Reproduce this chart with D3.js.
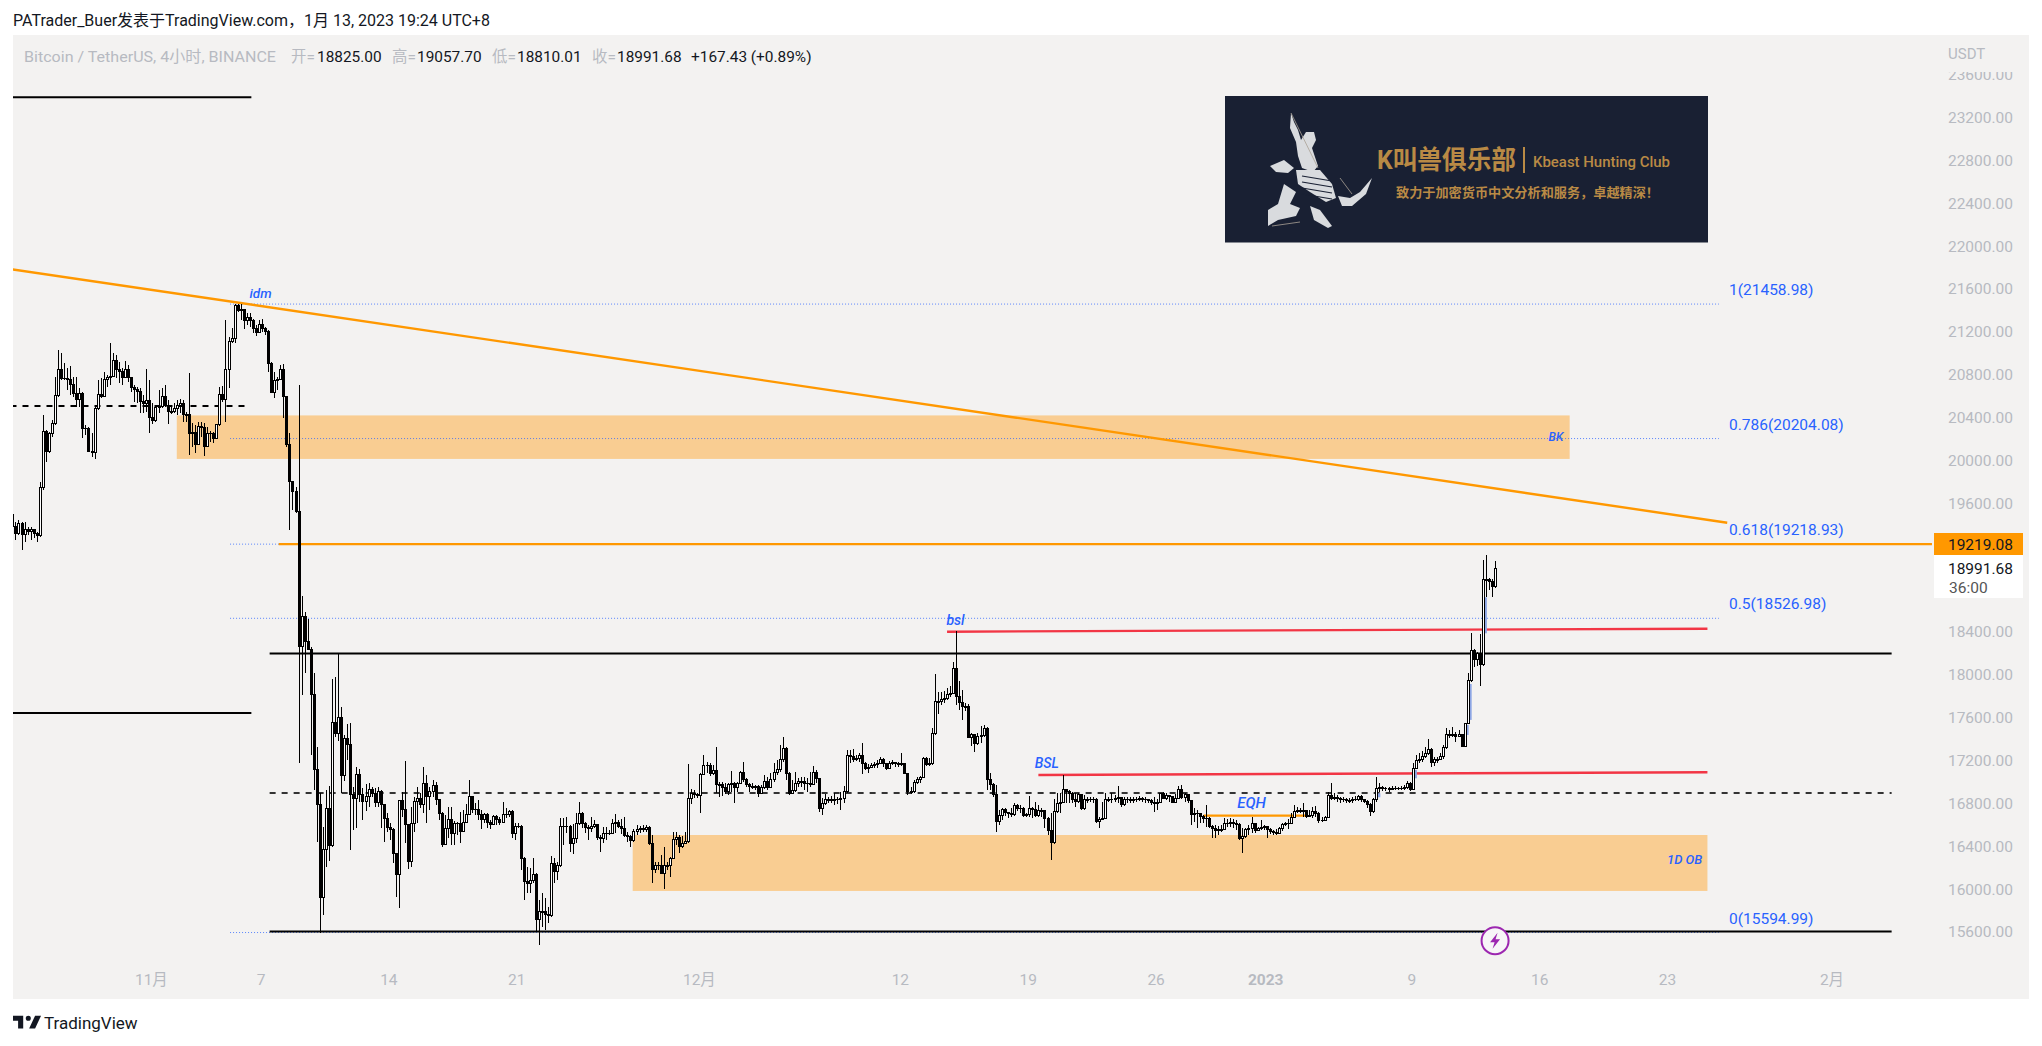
<!DOCTYPE html>
<html>
<head>
<meta charset="utf-8">
<script src="https://cdn.jsdelivr.net/npm/d3@7"></script>
<style>
  html, body { margin: 0; padding: 0; background: #fff; }
  text { font-family: Roboto, "Noto Sans CJK SC", sans-serif; }
</style>
</head>
<body>
<svg id="chart" width="2042" height="1046"></svg>
<script>
// 4h candles, first one is oct 24 12:00 (UTC+8)
const closes = [
19382,19320,19413,19305,19351,19336,19351,19314,19301,19749,20269,20082,20253,20346,20608,20850,20766,20766,20757,20704,20620,20570,20626,20300,20300,20082,20073,20486,20611,20595,20757,20775,20782,20928,20844,20828,20775,20850,20775,20682,20663,20642,20548,20527,20558,20402,20377,20496,20502,20595,20517,20455,20455,20486,20517,20527,20424,20424,20253,20259,20144,20315,20309,20129,20253,20253,20206,20331,20617,20564,20844,21108,21139,21450,21397,21404,21310,21335,21310,21233,21192,21264,21233,21202,20906,20632,20744,20751,20850,20595,20144,19802,19709,19522,
18263,18542,18309,18238,17812,17118,16785,15921,16372,16754,16403,17553,17454,17603,17056,17407,17351,16879,16847,17071,16879,16816,16863,16931,16894,16807,16910,16785,16661,16577,16552,16328,16138,16826,16745,16599,16257,16614,16816,16847,16785,16987,16863,16910,16963,16838,16707,16421,16568,16652,16521,16614,16614,16536,16620,16692,16863,16745,16745,16701,16652,16692,16620,16599,16676,16652,16620,16701,16701,16723,16521,16583,16589,
16288,16070,16048,16079,16132,15719,15790,15790,15759,15750,16241,16163,16216,16589,16589,16589,16428,16474,16608,16708,16614,16577,16568,16589,16599,16484,16474,16521,16521,16521,16614,16620,16589,16568,16496,16490,16452,16536,16558,16568,16558,16577,16428,16179,16216,16225,16148,16216,16216,16288,16465,16484,16397,16428,16443,16847,16894,16879,16869,17065,17158,17158,17081,17106,16972,16972,16950,16910,16972,16987,16950,16987,17087,17025,16972,16956,16950,16956,16888,16950,17003,16950,17019,17087,17112,17205,
17314,17081,16894,16919,16988,17003,17003,16988,16988,16972,17087,17034,16754,16801,16832,16832,16826,16838,16832,16848,16910,17243,17237,17205,17221,17243,17174,17128,17137,17149,17159,17174,17212,17168,17128,17174,17181,17168,17159,17174,17081,16910,16910,16994,17019,17044,17221,17159,17168,17448,17750,17750,17765,17781,17812,17827,18061,17796,17740,17703,17703,17417,17439,17361,17423,17429,17501,17025,16972,16879,16630,16683,16739,16714,16702,16692,16776,16754,16754,16683,16692,16754,16739,16683,16733,16733,16661,16546,16437,16723,16801,16810,16926,16910,16894,16832,16817,16879,16754,16832,16832,16838,16832,16630,16646,16661,16832,16832,16838,16848,16857,16786,16838,16838,16826,16832,16838,16848,16838,16832,16826,16807,16795,16807,16894,16848,16870,16863,16807,16848,16926,16857,16879,16826,16692,16708,16702,
16676,16661,16661,16583,16567,16546,16552,16552,16614,16614,16620,16614,16599,16474,16490,16558,16567,16608,16546,16567,16577,16583,16558,16536,16527,16521,16567,16599,16608,16614,16670,16723,16732,16732,16732,16676,16683,16723,16707,16645,16639,16670,16869,16847,16857,16847,16838,16838,16826,16826,16838,16838,16863,16832,16816,16785,16723,16832,16941,16950,16941,
16941,16926,16941,16941,16941,16941,16950,16988,16926,17128,17199,17205,17237,17268,17299,17180,17205,17205,17237,17324,17439,17439,17439,17423,17439,17330,17548,17946,18226,18138,18194,18092,18885,18885,18869,18825,18991.68];
const highs = [
19600,19429,19444,19429,19429,19382,19382,19351,19336,19802,20424,20284,20269,20377,20782,21031,21000,20906,20859,20881,20782,20782,20673,20642,20331,20315,20253,20502,20751,20766,20828,20797,21093,21000,20984,20922,20859,20931,20891,20782,20704,20682,20673,20611,20850,20751,20533,20517,20657,20673,20704,20564,20517,20533,20564,20570,20564,20455,20813,20346,20331,20362,20362,20353,20315,20278,20269,20340,20682,20695,21310,21149,21233,21459,21459,21459,21404,21373,21379,21317,21264,21310,21317,21248,21217,20922,20828,20782,20891,20900,20595,20253,19802,19755,
20704,18735,18589,18518,18256,18014,17329,16894,16583,16925,16963,17958,17983,18200,17696,17438,17541,17553,16956,17143,17118,16941,16981,16994,16956,16941,16956,16925,16785,16707,16620,16568,16334,16832,16910,17199,16599,16770,16863,16956,16894,17137,17065,16956,17019,17003,16838,16723,16692,16770,16770,16639,16630,16723,16739,16795,17019,16863,16801,16832,16739,16714,16707,16645,16692,16692,16676,16816,16754,16739,16739,16620,16614,
16599,16303,16210,16194,16288,16148,15899,15961,15914,15837,16309,16288,16257,16661,16661,16676,16599,16608,16708,16816,16723,16630,16599,16670,16645,16599,16505,16583,16583,16552,16652,16701,16645,16652,16676,16536,16505,16558,16599,16589,16599,16599,16589,16505,16257,16257,16319,16397,16257,16303,16536,16536,16505,16496,16536,17168,16931,16925,16894,17081,17252,17190,17174,17158,17330,17003,17003,16987,16987,17106,17003,17003,17106,17190,17034,16987,16987,16972,16972,16972,17065,17050,17081,17174,17205,17345,
17423,17330,17097,17019,17097,17034,17050,17044,17034,17097,17149,17112,17034,16848,16888,16863,16870,16894,16863,16910,16963,17299,17299,17305,17252,17268,17361,17190,17168,17174,17190,17205,17237,17221,17181,17199,17205,17190,17190,17268,17181,17087,16957,17019,17050,17056,17237,17237,17221,17501,18008,17843,17843,17852,17874,17896,18123,18409,17946,17859,17734,17728,17454,17445,17454,17523,17532,17510,17081,16988,16972,16739,16754,16754,16723,16754,16801,16795,16786,16770,16708,16870,16770,16817,16786,16754,16739,16677,16708,16838,16894,16901,17065,16932,16926,16910,16894,16901,16888,16879,16863,16863,16863,16848,16677,16817,16894,16863,16894,16879,16963,16863,16857,16863,16857,16863,16857,16870,16863,16857,16845,16838,16863,16838,16901,16910,16901,16879,16870,16888,16963,16972,16894,16888,16832,16754,16739,
16707,16692,16785,16676,16599,16599,16589,16599,16661,16651,16661,16651,16645,16614,16567,16567,16599,16676,16599,16583,16645,16599,16589,16567,16552,16558,16583,16614,16630,16651,16707,16785,16770,16754,16801,16739,16739,16770,16776,16723,16670,16683,16910,16987,16894,16878,16863,16863,16847,16847,16863,16869,16878,16878,16838,16832,16801,16847,17043,16987,16962,
16957,16950,16963,16963,16957,16963,16972,17013,17003,17174,17252,17268,17292,17330,17401,17314,17237,17237,17268,17345,17501,17485,17510,17470,17485,17439,17554,18014,18387,18238,18216,18381,19071,19118,18900,18891,19057.7];
const lows = [
19351,19258,19305,19165,19242,19305,19258,19273,19242,19289,19724,19989,20066,20222,20331,20595,20751,20751,20657,20611,20595,20502,20502,20206,20237,20082,20035,20010,20471,20580,20595,20688,20704,20782,20766,20720,20704,20766,20735,20642,20548,20533,20440,20440,20455,20253,20340,20362,20440,20486,20502,20340,20433,20440,20424,20440,20362,20362,20051,20129,20066,20144,20222,20042,20129,20175,20160,20197,20321,20548,20362,20673,21093,21093,21388,21310,21223,21264,21242,21186,21161,21186,21202,21170,20828,20626,20580,20657,20751,20393,20129,19351,19538,19507,
17174,17812,18014,18231,17252,16925,16443,15594,15759,16210,16266,16396,17423,17385,16894,17012,17205,16365,16552,16568,16816,16645,16732,16763,16863,16770,16770,16568,16443,16536,16459,16241,15924,15821,16676,16434,16185,16204,16536,16614,16754,16707,16614,16739,16863,16785,16645,16390,16412,16474,16412,16412,16505,16434,16536,16614,16692,16707,16692,16645,16558,16614,16568,16558,16614,16599,16599,16620,16661,16676,16474,16459,16568,
16179,15899,15961,15967,16054,15603,15479,15650,15619,15681,15743,16054,16086,16210,16412,16521,16350,16328,16428,16599,16568,16521,16459,16536,16568,16459,16350,16428,16459,16505,16515,16521,16568,16515,16484,16443,16390,16443,16505,16521,16536,16536,16412,16061,16148,16179,16142,15998,16179,16110,16278,16412,16341,16381,16428,16428,16795,16847,16847,16714,17065,17081,17056,17065,16894,16863,16869,16888,16879,16910,16801,16910,16987,17003,16956,16910,16931,16925,16863,16894,16931,16925,16941,17003,17065,17096,
17190,17019,16879,16888,16910,16957,16957,16926,16910,16957,16982,16988,16723,16692,16786,16801,16801,16786,16795,16739,16801,16901,17174,17190,17199,17190,17072,17112,17081,17128,17128,17128,17168,17137,17112,17128,17159,17143,17137,17149,17075,16879,16888,16894,16982,16994,17034,17149,17149,17159,17439,17635,17719,17734,17765,17790,17821,17719,17672,17579,17666,17408,17336,17283,17345,17361,17417,16926,16926,16863,16537,16599,16646,16683,16661,16677,16683,16733,16708,16677,16677,16677,16661,16670,16677,16677,16568,16506,16272,16422,16714,16708,16832,16801,16807,16801,16770,16801,16739,16739,16801,16817,16801,16621,16568,16646,16723,16817,16801,16817,16801,16770,16776,16801,16801,16807,16817,16826,16817,16807,16801,16786,16723,16739,16801,16838,16832,16817,16801,16801,16838,16838,16817,16801,16599,16630,16568,
16614,16614,16583,16567,16474,16474,16505,16536,16552,16583,16583,16567,16552,16459,16340,16474,16505,16521,16521,16546,16552,16552,16474,16515,16505,16505,16515,16546,16589,16558,16614,16661,16707,16707,16676,16661,16670,16661,16676,16614,16630,16651,16661,16832,16832,16816,16807,16816,16801,16801,16807,16826,16826,16816,16807,16754,16683,16707,16816,16910,16919,
16919,16910,16926,16926,16926,16926,16926,16932,16919,16926,17128,17174,17190,17221,17252,17137,17149,17180,17205,17212,17305,17408,17417,17377,17423,17324,17330,17541,17936,18076,18082,17896,18082,18729,18792,18723,18810.01];
const firstOpen = 19500;

const priceTicks = [23600,23200,22800,22400,22000,21600,21200,20800,20400,20000,19600,18400,18000,17600,17200,16800,16400,16000,15600];
const timeTickDates = [[2022,10,1],[2022,10,7],[2022,10,14],[2022,10,21],[2022,11,1],[2022,11,12],[2022,11,19],[2022,11,26],[2023,0,1],[2023,0,9],[2023,0,16],[2023,0,23],[2023,1,1]];
const timeTickLabels = ['11月','7','14','21','12月','12','19','26','2023','9','16','23','2月'];

// fib levels
const fibNames = ['1','0.786','0.618','0.5','0'];
const fibPrices = [21458.98,20204.08,19218.93,18526.98,15594.99];

const zoneStarts = [Date.UTC(2022,10,2,10),Date.UTC(2022,10,27,9)];
const zoneEnds = [Date.UTC(2023,0,17,16),Date.UTC(2023,0,25,5)];
const zoneTops = [20420,16505];
const zoneBottoms = [20014,15983];

const hLineNames = ['top','left','upperDash','midDash','black18200','blackLow'];
const hLinePrices = [23388,17643,20508,16897,18199,15604];
const hLineStarts = [Date.UTC(2022,9,23),Date.UTC(2022,9,23),Date.UTC(2022,9,23),Date.UTC(2022,10,7,12),Date.UTC(2022,10,7,12),Date.UTC(2022,10,7,12)];
const hLineEnds = [Date.UTC(2022,10,6,12),Date.UTC(2022,10,6,12),Date.UTC(2022,10,6,4),Date.UTC(2023,1,4,7),Date.UTC(2023,1,4,7),Date.UTC(2023,1,4,7)];

const annoTexts = ['idm','bsl','BSL','EQH','BK','1D OB'];
const annoDates = [Date.UTC(2022,10,7),Date.UTC(2022,11,15,1),Date.UTC(2022,11,20,1),Date.UTC(2022,11,31,6),Date.UTC(2023,0,16,22),Date.UTC(2023,0,23,23)];
const annoPrices = [21553,18502,17168,16794,20212,16262];
const annoSizes = [13.5,14,14,15,12,13];

// thin blue stripes beside the big up bars
const fvgBars = [448,460,477,478,483];
const fvgTops = [16894,17112,17532,17914,18723];
const fvgBottoms = [16857,17034,17439,17579,18387];

const legendParts = [['Bitcoin / TetherUS, 4小时, BINANCE',24,0,252],['开=',291,0],['18825.00',317,1],['高=',392,0],['19057.70',417,1],['低=',492,0],['18810.01',517,1],['收=',592,0],['18991.68',617,1],['+167.43 (+0.89%)',691,1]];

const W = 2042, H = 1046;
const plot = { left: 13, right: 2029, top: 35, bottom: 999 };
const gray = '#b7bac1', blue = '#2962ff', orange = '#ff9800', red = '#f23645';

const x = d3.scaleUtc().domain([Date.UTC(2022,10,7), Date.UTC(2023,1,1)]).range([260.5, 1831.5]);
const y = d3.scaleLinear().domain([15600, 23600]).range([932, 74.6]);

const t0 = Date.UTC(2022,9,24,10), barMs = 4 * 3600 * 1000;
const barTime = i => t0 + i * barMs;
const bars = closes.map((c, i) => ({
  i,
  t: barTime(i),
  o: i ? closes[i - 1] : firstOpen,
  h: highs[i],
  l: lows[i],
  c,
}));

const svg = d3.select('#chart');
svg.append('defs').append('clipPath').attr('id', 'plotClip').append('rect')
  .attr('x', plot.left).attr('y', plot.top)
  .attr('width', 1925).attr('height', plot.bottom - plot.top);
svg.select('defs').append('clipPath').attr('id', 'axisClip').append('rect')
  .attr('x', 1930).attr('y', 72).attr('width', 100).attr('height', 900);

svg.append('text').attr('x', 13).attr('y', 26).attr('font-size', 16).attr('fill', '#131722')
  .text('PATrader_Buer发表于TradingView.com，1月 13, 2023 19:24 UTC+8');

svg.append('rect').attr('x', plot.left).attr('y', plot.top)
  .attr('width', plot.right - plot.left).attr('height', plot.bottom - plot.top)
  .attr('fill', '#f3f2f1');

// legend
svg.append('g').selectAll('text').data(legendParts).join('text')
  .attr('x', d => d[1]).attr('y', 62).attr('font-size', 15.4)
  .attr('fill', d => d[2] ? '#131722' : gray)
  .attr('textLength', d => d[3] || null)
  .attr('lengthAdjust', 'spacingAndGlyphs')
  .text(d => d[0]);

// axes
const yAxis = d3.axisRight(y).tickValues(priceTicks).tickSize(0).tickFormat(d3.format('.2f'));
const yG = svg.append('g').attr('clip-path', 'url(#axisClip)')
  .append('g').attr('transform', 'translate(2013,0)').call(yAxis);
yG.select('.domain').remove();
yG.selectAll('text').attr('x', 0).attr('text-anchor', 'end').attr('font-size', 15.5)
  .attr('font-family', 'Roboto').attr('fill', gray);
svg.append('text').attr('x', 1948).attr('y', 59).attr('font-size', 15).attr('fill', gray).text('USDT');

const xAxis = d3.axisBottom(x)
  .tickValues(timeTickDates.map(d => new Date(Date.UTC(d[0], d[1], d[2]))))
  .tickSize(0)
  .tickFormat((d, i) => timeTickLabels[i]);
const xG = svg.append('g').attr('transform', 'translate(0,968)').call(xAxis);
xG.select('.domain').remove();
xG.selectAll('text').attr('font-size', 15.5).attr('fill', gray).attr('dy', '0.71em').attr('y', 6)
  .attr('font-family', 'Roboto, "Noto Sans CJK SC"')
  .attr('font-weight', (d, i) => timeTickLabels[i] === '2023' ? 700 : 400);

const chart = svg.append('g').attr('clip-path', 'url(#plotClip)');

// order blocks
chart.append('g').selectAll('rect').data(zoneTops).join('rect')
  .attr('x', (d, i) => x(zoneStarts[i]))
  .attr('width', (d, i) => x(zoneEnds[i]) - x(zoneStarts[i]))
  .attr('y', d => y(d))
  .attr('height', (d, i) => y(zoneBottoms[i]) - y(d))
  .attr('fill', '#f9cd92');

// fib dotted lines
chart.append('g').selectAll('line').data(fibPrices).join('line')
  .attr('x1', x(Date.UTC(2022,10,5,8))).attr('x2', x(Date.UTC(2023,0,25,20)))
  .attr('y1', d => y(d)).attr('y2', d => y(d))
  .attr('stroke', blue).attr('stroke-width', 1).attr('stroke-dasharray', '1 2').attr('opacity', 0.75);

// black levels, some of them dashed
chart.append('g').selectAll('line').data(hLinePrices).join('line')
  .attr('x1', (d, i) => x(hLineStarts[i])).attr('x2', (d, i) => x(hLineEnds[i]))
  .attr('y1', d => y(d)).attr('y2', d => y(d))
  .attr('stroke', (d, i) => i === 3 ? '#333' : '#000')
  .attr('stroke-width', 2)
  .attr('stroke-dasharray', (d, i) => i === 2 || i === 3 ? '6 6' : null);

// trend and liquidity lines
const segs = [
  { t1: Date.UTC(2022,9,24,9), p1: 21784, t2: Date.UTC(2023,0,26,7), p2: 19419, c: orange, w: 2.4 },
  { t1: Date.UTC(2022,10,8), p1: 19219, t2: Date.UTC(2023,1,6,12), p2: 19219, c: orange, w: 2.2 },
  { t1: Date.UTC(2022,11,14,14), p1: 18402, t2: Date.UTC(2023,0,25,5), p2: 18430, c: red, w: 2.4 },
  { t1: Date.UTC(2022,11,19,14), p1: 17065, t2: Date.UTC(2023,0,25,5), p2: 17090, c: red, w: 2.4 },
  { t1: Date.UTC(2022,11,28,15), p1: 16685, t2: Date.UTC(2023,0,3,5), p2: 16685, c: orange, w: 2.2 },
];
chart.append('g').selectAll('line').data(segs).join('line')
  .attr('x1', d => x(d.t1)).attr('y1', d => y(d.p1))
  .attr('x2', d => x(d.t2)).attr('y2', d => y(d.p2))
  .attr('stroke', d => d.c).attr('stroke-width', d => d.w);

// fvg stripes
chart.append('g').selectAll('rect').data(fvgBars).join('rect')
  .attr('x', d => x(barTime(d)) + 1.5).attr('width', 2.5)
  .attr('y', (d, i) => y(fvgTops[i]))
  .attr('height', (d, i) => y(fvgBottoms[i]) - y(fvgTops[i]))
  .attr('fill', '#8ea6e4');

// candles
const px = d => Math.round(x(d.t));
const candles = chart.append('g').attr('shape-rendering', 'crispEdges');
candles.selectAll('line').data(bars).join('line')
  .attr('x1', d => px(d) + 0.5).attr('x2', d => px(d) + 0.5)
  .attr('y1', d => y(d.h)).attr('y2', d => y(d.l))
  .attr('stroke', '#000');
candles.selectAll('rect').data(bars).join('rect')
  .attr('x', d => px(d) - 0.5).attr('width', 2)
  .attr('y', d => y(Math.max(d.o, d.c)))
  .attr('height', d => Math.max(0.5, Math.abs(y(d.o) - y(d.c))))
  .attr('fill', d => d.c >= d.o ? '#fff' : '#000')
  .attr('stroke', '#000').attr('stroke-width', 1);

// annotations
chart.append('g').selectAll('text').data(annoTexts).join('text')
  .attr('x', (d, i) => x(annoDates[i])).attr('y', (d, i) => y(annoPrices[i]))
  .attr('text-anchor', 'middle').attr('dominant-baseline', 'middle')
  .attr('font-style', 'italic').attr('font-weight', 500).attr('font-size', (d, i) => annoSizes[i])
  .attr('fill', blue).text(d => d);

// fib labels
chart.append('g').selectAll('text').data(fibPrices).join('text')
  .attr('x', 1729).attr('y', d => y(d) - 13)
  .attr('dominant-baseline', 'middle').attr('font-size', 15.5).attr('fill', blue)
  .text((d, i) => fibNames[i] + '(' + d3.format('.2f')(d) + ')');

// price labels on the scale
svg.append('rect').attr('x', 1934).attr('y', 533).attr('width', 89).attr('height', 22).attr('fill', orange);
svg.append('rect').attr('x', 1934).attr('y', 555).attr('width', 89).attr('height', 43).attr('fill', '#fff');
svg.append('text').attr('x', 2013).attr('y', 550).attr('text-anchor', 'end').attr('font-size', 15.5).attr('fill', '#131722').text(d3.format('.2f')(19219.08));
svg.append('text').attr('x', 2013).attr('y', 574).attr('text-anchor', 'end').attr('font-size', 15.5).attr('fill', '#131722').text(d3.format('.2f')(closes[closes.length - 1]));
svg.append('text').attr('x', 1949).attr('y', 593).attr('font-size', 15.5).attr('fill', '#555').text('36:00');

// lightning marker
const last = bars[bars.length - 1];
const bolt = svg.append('g').attr('transform', `translate(${x(last.t)},${y(15519)})`);
bolt.append('circle').attr('r', 13.5).attr('fill', '#f7f5f7').attr('stroke', '#9c27b0').attr('stroke-width', 2);
bolt.append('path').attr('d', 'M2.5 -8 L-5 1.5 L-0.5 1.5 L-2.5 8 L5 -1.5 L0.5 -1.5 Z').attr('fill', '#9c27b0');

// club banner
const banner = svg.append('g');
banner.append('rect').attr('x', 1225).attr('y', 96).attr('width', 483).attr('height', 146.5).attr('fill', '#192033');
const rider = banner.append('g').attr('fill', '#d9dbde');
['M1291 113 L1294 122 L1298 130 L1301 140 L1306 132 L1314 132 L1316 140 L1312 148 L1318 166 L1313 172 L1302 168 L1298 156 L1296 142 L1290 128 Z',
 'M1270 166 L1284 160 L1294 168 L1288 173 L1276 172 Z',
 'M1296 170 L1320 170 L1332 184 L1336 198 L1326 202 L1310 192 L1298 184 Z',
 'M1284 184 L1296 192 L1290 204 L1300 208 L1296 216 L1278 220 L1268 226 L1268 210 L1278 204 Z',
 'M1310 206 L1320 210 L1332 226 L1328 228 L1314 220 Z',
 'M1338 196 L1350 198 L1360 192 L1372 178 L1366 194 L1352 206 L1342 206 Z'].forEach(d => rider.append('path').attr('d', d));
// feather lines on the shield
banner.append('g').attr('stroke', '#192033').attr('stroke-width', 1.2).selectAll('line')
  .data([176, 182, 188, 194]).join('line')
  .attr('x1', 1302).attr('x2', 1332).attr('y1', d => d).attr('y2', d => d + 5);
banner.append('path').attr('d', 'M1291 113 L1318 168 M1272 226 L1300 222 M1340 178 L1352 194')
  .attr('stroke', '#a9a196').attr('stroke-width', 0.8).attr('fill', 'none');
const gold = '#b98a45';
banner.append('text').attr('x', 1377).attr('y', 169).attr('font-size', 26).attr('font-weight', 700).attr('fill', gold)
  .attr('textLength', 139).attr('lengthAdjust', 'spacingAndGlyphs').text('K叫兽俱乐部');
banner.append('rect').attr('x', 1523).attr('y', 147).attr('width', 2).attr('height', 26).attr('fill', gold);
banner.append('text').attr('x', 1533).attr('y', 167).attr('font-size', 15).attr('font-weight', 500).attr('fill', gold)
  .attr('textLength', 137).attr('lengthAdjust', 'spacingAndGlyphs').text('Kbeast Hunting Club');
banner.append('text').attr('x', 1396).attr('y', 197).attr('font-size', 13).attr('font-weight', 700).attr('fill', gold)
  .attr('textLength', 263).attr('lengthAdjust', 'spacingAndGlyphs').text('致力于加密货币中文分析和服务，卓越精深！');

// footer logo
svg.append('path').attr('transform', 'translate(11.3,1010.6) scale(0.85)')
  .attr('d', 'M14 6H2v6h6v9h6V6zm14 15h-7l7-15h7l-7 15zm-8-9a3 3 0 100-6 3 3 0 000 6z').attr('fill', '#131722');
svg.append('text').attr('x', 44).attr('y', 1029).attr('font-size', 17).attr('fill', '#131722').text('TradingView');
</script>
</body>
</html>
